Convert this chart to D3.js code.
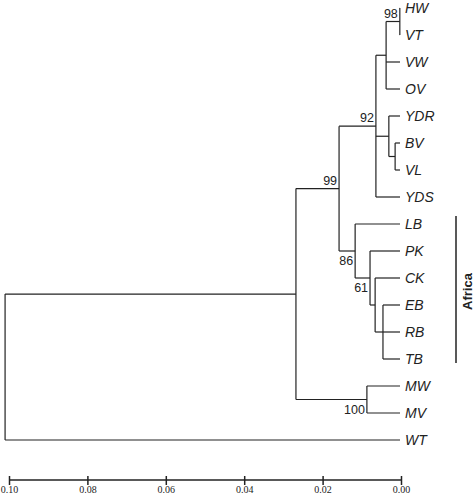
<!DOCTYPE html>
<html><head><meta charset="utf-8">
<script src="https://cdn.jsdelivr.net/npm/d3@7"></script>
<style>body{margin:0;background:#fff}</style></head>
<body><svg id="c" width="474" height="496"></svg>
<script>
// leaves in display order
const leaves = ["HW","VT","VW","OV","YDR","BV","VL","YDS","LB","PK","CK","EB","RB","TB","MW","MV","WT"];
// internal nodes: id, height (distance from tips), children, bootstrap
const nodeIds      = ["root","N1","N2","N3","N4","HV","N5","BL","N6","N7","N8","N9","MM"];
const nodeHeights  = [0.101,0.0268,0.0158,0.0064,0.0038,0.0003,0.0031,0.0015,0.0117,0.0079,0.0066,0.0046,0.0087];
const nodeChildren = [["N1","WT"],["N2","MM"],["N3","N6"],["N4","N5","YDS"],["HV","VW","OV"],["HW","VT"],["YDR","BL"],["BV","VL"],["LB","N7"],["PK","N8"],["CK","N9"],["EB","RB","TB"],["MW","MV"]];
const bootstrap    = ["","","99","92","","98","","","86","61","","","100"];
const bootPos      = ["","","above","above","","above","","","below","below","","","below"];
const axisTicks = [0.10,0.08,0.06,0.04,0.02,0.00];
const cladeLabel = "Africa", cladeFrom = "LB", cladeTo = "TB";

const svg = d3.select("#c");
const x = d3.scaleLinear().domain([0.10,0]).range([9,401]);
const y = d3.scalePoint().domain(leaves).range([8,440]);
const pos = {};
leaves.forEach(l=>pos[l]={x:x(0)-1,y:y(l)});
const idx = {}; nodeIds.forEach((n,i)=>idx[n]=i);
function place(n){
  if(pos[n]) return pos[n];
  const i=idx[n]; const ch=nodeChildren[i].map(place);
  pos[n]={x:x(nodeHeights[i]),y:(ch[0].y+ch[ch.length-1].y)/2};
  return pos[n];
}
place("root");
const g=svg.append("g").attr("stroke","#222").attr("stroke-width",1.2).attr("fill","none");
nodeIds.forEach((n,i)=>{
  const p=pos[n]; const ch=nodeChildren[i].map(c=>pos[c]);
  g.append("line").attr("x1",p.x).attr("x2",p.x).attr("y1",ch[0].y).attr("y2",ch[ch.length-1].y);
  ch.forEach(c=>g.append("line").attr("x1",p.x).attr("x2",c.x).attr("y1",c.y).attr("y2",c.y));
  if(bootstrap[i]) svg.append("text").attr("x",p.x-2).attr("y",bootPos[i]==="above"?p.y-4:p.y+14)
    .attr("text-anchor","end").attr("font-family","Arial, Liberation Sans, sans-serif").attr("font-size",12.5).attr("fill","#222").text(bootstrap[i]);
});
leaves.forEach(l=>svg.append("text").attr("x",405).attr("y",y(l)+5).attr("font-family","Arial, Liberation Sans, sans-serif")
  .attr("font-style","italic").attr("font-size",14).attr("fill","#222").text(l));
// clade bar
svg.append("line").attr("x1",456).attr("x2",456).attr("y1",y(cladeFrom)-8).attr("y2",y(cladeTo)+4).attr("stroke","#222").attr("stroke-width",1.5);
const cy=(y(cladeFrom)+y(cladeTo))/2;
svg.append("text").attr("transform",`translate(472,${cy}) rotate(-90)`).attr("text-anchor","middle")
  .attr("font-family","Arial, Liberation Sans, sans-serif").attr("font-weight","bold").attr("font-size",13).attr("fill","#222").text(cladeLabel);
// axis
const ax=svg.append("g").attr("transform","translate(0,480)")
  .call(d3.axisBottom(x).tickValues(axisTicks).tickFormat(d3.format(".2f")).tickSize(5).tickPadding(1));
ax.select(".domain").attr("stroke","#222").attr("stroke-width",1.5).attr("d",`M${x(0.1)},0H${x(0)}`);
ax.selectAll(".tick line").attr("stroke","#222").attr("stroke-width",1.5).attr("y1",-4);
ax.selectAll("text").attr("font-family","Liberation Serif, serif").attr("font-size",10).attr("fill","#222");
</script></body></html>
